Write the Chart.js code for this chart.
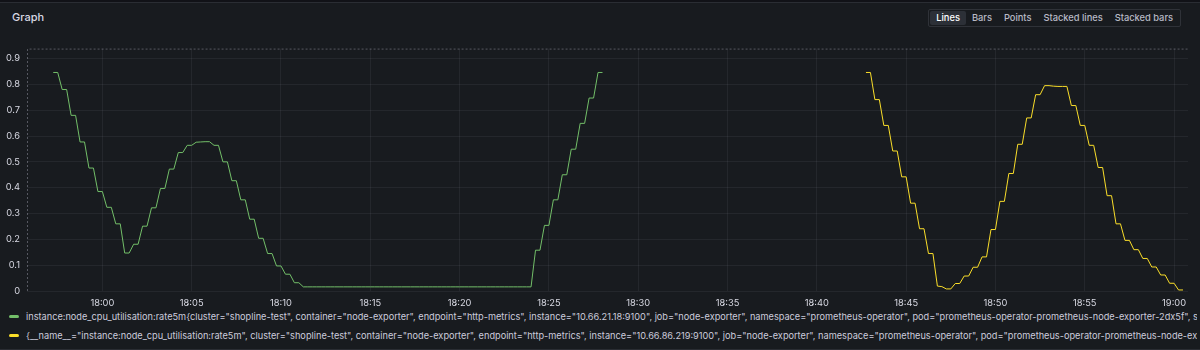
<!DOCTYPE html>
<html>
<head>
<meta charset="utf-8">
<script src="https://cdn.jsdelivr.net/npm/chart.js@4.4.1/dist/chart.umd.min.js"></script>
<style>
  html, body { margin: 0; padding: 0; background: #111217; }
  body { width: 1200px; height: 350px; position: relative; overflow: hidden; font-family: Inter, "Noto Sans", sans-serif; }
  #panel { position: absolute; left: 0; top: 2px; width: 1200px; height: 346px; background: #181b1f; border-top: 1px solid #2a2d33; border-bottom: 1px solid #2a2d33; }
  #title { position: absolute; left: 12px; top: 10px; font-size: 11px; font-weight: 500; color: #d8d9e3; }
  #modes { position: absolute; right: 19px; top: 9px; height: 14px; padding: 1px 1px; border: 1px solid #2f3238; border-radius: 2px; display: flex; font-size: 9.3px; font-weight: 500; white-space: nowrap; }
  #modes span { padding: 0 6px; line-height: 14px; color: #b8bac6; }
  #modes span.on { background: #2c3037; color: #fff; border-radius: 2px; }
  #wrap { position: absolute; left: 0; top: 36px; width: 1200px; height: 274px; }
  .leg { position: absolute; left: 0; width: 1197px; height: 14px; white-space: nowrap; overflow: hidden; font-size: 9.2px; color: #ccccdc; }
  .leg i { position: absolute; left: 9px; top: 5px; width: 10px; height: 3px; border-radius: 1.5px; }
  .leg span { position: absolute; left: 26px; top: 0; line-height: 14px; }
</style>
</head>
<body>
<div id="panel"></div>
<div id="title">Graph</div>
<div id="modes"><span class="on">Lines</span><span>Bars</span><span>Points</span><span>Stacked lines</span><span>Stacked bars</span></div>
<div id="wrap"><canvas id="graph"></canvas></div>
<div class="leg" style="top:310px"><i style="background:#73bf69"></i><span id="leg0"></span></div>
<div class="leg" style="top:329px"><i style="background:#fade2a"></i><span id="leg1"></span></div>
<script>
// samples every 15s, x in minutes relative to 18:00
const stepMin = 0.25;
const xMin = -4.22;
const xMax = 60.78;
const xTicks = [0, 5, 10, 15, 20, 25, 30, 35, 40, 45, 50, 55, 60];
const yTicks = [0, 0.1, 0.2, 0.3, 0.4, 0.5, 0.6, 0.7, 0.8, 0.9];
const yMax = 0.9385;

const seriesNames = [
  'instance:node_cpu_utilisation:rate5m{cluster="shopline-test", container="node-exporter", endpoint="http-metrics", instance="10.66.21.18:9100", job="node-exporter", namespace="prometheus-operator", pod="prometheus-operator-prometheus-node-exporter-2dx5f", service="prometheus-operator-prometheus-node-exporter"}',
  '{__name__="instance:node_cpu_utilisation:rate5m", cluster="shopline-test", container="node-exporter", endpoint="http-metrics", instance="10.66.86.219:9100", job="node-exporter", namespace="prometheus-operator", pod="prometheus-operator-prometheus-node-exporter-8kq2m"}'
];

// green: 17:57:15 -> 18:28:00
const greenStart = -2.75;
const greenValues = [
  0.846, 0.846, 0.780, 0.780, 0.680, 0.680, 0.577, 0.577, 0.476, 0.476,
  0.385, 0.385, 0.324, 0.324, 0.260, 0.260, 0.147, 0.147, 0.181, 0.181,
  0.251, 0.251, 0.322, 0.322, 0.397, 0.397, 0.472, 0.472, 0.536, 0.536,
  0.564, 0.564, 0.576, 0.577, 0.578, 0.578, 0.564, 0.564, 0.500, 0.500,
  0.427, 0.427, 0.353, 0.353, 0.278, 0.278, 0.204, 0.204, 0.145, 0.145,
  0.097, 0.097, 0.065, 0.065, 0.032, 0.032,
  0.016, 0.016, 0.016, 0.016, 0.016, 0.016, 0.016, 0.016, 0.016, 0.016,
  0.016, 0.016, 0.016, 0.016, 0.016, 0.016, 0.016, 0.016, 0.016, 0.016,
  0.016, 0.016, 0.016, 0.016, 0.016, 0.016, 0.016, 0.016, 0.016, 0.016,
  0.016, 0.016, 0.016, 0.016, 0.016, 0.016, 0.016, 0.016, 0.016, 0.016,
  0.016, 0.016, 0.016, 0.016, 0.016, 0.016, 0.016, 0.016, 0.016, 0.016,
  0.016, 0.016,
  0.158, 0.158, 0.254, 0.254, 0.353, 0.353, 0.450, 0.450, 0.549, 0.549,
  0.649, 0.649, 0.747, 0.747, 0.846, 0.846
];

// yellow: 18:42:45 -> 19:00:30
const yellowStart = 42.75;
const yellowValues = [
  0.846, 0.846, 0.741, 0.741, 0.641, 0.641, 0.542, 0.542, 0.442, 0.442,
  0.340, 0.340, 0.241, 0.241, 0.145, 0.145, 0.019, 0.017, 0.008, 0.008,
  0.029, 0.029, 0.058, 0.058, 0.092, 0.092, 0.132, 0.132, 0.238, 0.238,
  0.347, 0.347, 0.455, 0.455, 0.568, 0.568, 0.670, 0.670, 0.760, 0.760,
  0.795, 0.795, 0.793, 0.792, 0.792, 0.792, 0.718, 0.718, 0.641, 0.641,
  0.564, 0.564, 0.478, 0.478, 0.369, 0.369, 0.260, 0.260, 0.196, 0.196,
  0.160, 0.160, 0.126, 0.126, 0.093, 0.093, 0.062, 0.062, 0.030, 0.030,
  0.004, 0.004
];

const colors = { green: '#73bf69', yellow: '#fade2a', grid: 'rgba(204,204,220,0.07)', text: '#d8d9e3' };

document.getElementById('leg0').textContent = seriesNames[0];
document.getElementById('leg1').textContent = seriesNames[1];

const toPoints = (start, vals) => vals.map((v, i) => ({ x: start + i * stepMin, y: v }));

function fmtTime(m) {
  const total = 18 * 60 + m;
  const h = Math.floor(total / 60), mm = Math.round(total % 60);
  return h + ':' + String(mm).padStart(2, '0');
}

// dashed top/left frame like grafana's plot border
const frame = {
  id: 'frame',
  afterDraw(chart) {
    const { ctx, chartArea: a } = chart;
    ctx.save();
    ctx.strokeStyle = 'rgba(204,204,220,0.35)';
    ctx.lineWidth = 1;
    ctx.setLineDash([2, 2]);
    ctx.beginPath();
    ctx.moveTo(a.left + 0.5, a.bottom);
    ctx.lineTo(a.left + 0.5, a.top + 0.5);
    ctx.lineTo(a.right, a.top + 0.5);
    ctx.stroke();
    ctx.restore();
  }
};

Chart.defaults.font.family = 'Inter, "Noto Sans", sans-serif';
Chart.defaults.font.size = 9.3;
Chart.defaults.color = colors.text;

new Chart(document.getElementById('graph').getContext('2d'), {
  type: 'line',
  data: {
    datasets: [
      { label: seriesNames[0], data: toPoints(greenStart, greenValues), borderColor: colors.green, borderWidth: 1, pointRadius: 0, tension: 0 },
      { label: seriesNames[1], data: toPoints(yellowStart, yellowValues), borderColor: colors.yellow, borderWidth: 1, pointRadius: 0, tension: 0 }
    ]
  },
  options: {
    responsive: true,
    maintainAspectRatio: false,
    animation: false,
    layout: { padding: { top: 2, right: 12, left: 0, bottom: 0 } },
    plugins: { legend: { display: false }, tooltip: { enabled: false } },
    scales: {
      x: {
        type: 'linear',
        min: xMin,
        max: xMax,
        afterBuildTicks: axis => { axis.ticks = xTicks.map(v => ({ value: v })); },
        afterFit: axis => { axis.height = 19; },
        ticks: { callback: v => fmtTime(v), padding: 7, maxRotation: 0, autoSkip: false, color: colors.text },
        grid: { color: colors.grid, drawTicks: false },
        border: { display: false }
      },
      y: {
        min: 0,
        max: yMax,
        afterBuildTicks: axis => { axis.ticks = yTicks.map(v => ({ value: v })); },
        afterFit: axis => { axis.width = 27; },
        ticks: { padding: 7, color: colors.text },
        grid: { color: colors.grid, drawTicks: false },
        border: { display: false }
      }
    }
  },
  plugins: [frame]
});
</script>
</body>
</html>
